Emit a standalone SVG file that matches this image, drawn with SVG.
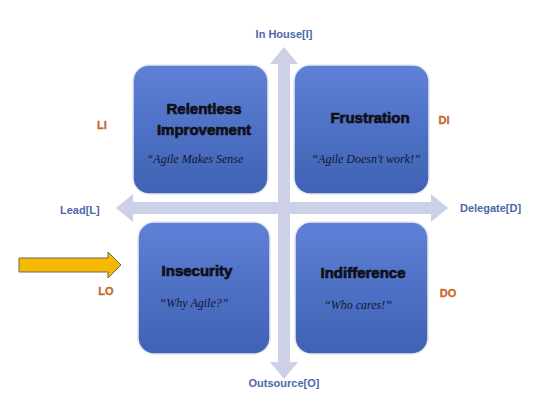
<svg xmlns="http://www.w3.org/2000/svg" width="550" height="405" viewBox="0 0 550 405">
<defs>
<linearGradient id="g" x1="0" y1="0" x2="0" y2="1">
<stop offset="0" stop-color="#5f80d6"/>
<stop offset="1" stop-color="#3f62b4"/>
</linearGradient>
<style>
.box{fill:url(#g);stroke:#e6e9f2;stroke-width:1.5}
.t{font-family:"Liberation Sans",Arial,sans-serif;font-weight:bold;font-size:15px;fill:#101018;stroke:#101018;stroke-width:0.7;text-anchor:middle}
.q{font-family:"Liberation Serif",serif;font-style:italic;font-size:12px;fill:#101830;text-anchor:middle}
.ax{font-family:"Liberation Sans",Arial,sans-serif;font-weight:bold;font-size:11px;fill:#4a68a8}
.c{font-family:"Liberation Sans",Arial,sans-serif;font-weight:bold;font-size:11px;fill:#c8682c;stroke:#c8682c;stroke-width:0.3;text-anchor:middle}
</style>
</defs>
<rect width="550" height="405" fill="#ffffff"/>
<g id="connectors">
<polygon id="vaxis" points="284,47 298,64 290,64 290,362 298,362 284,379 270,362 278,362 278,64 270,64" fill="#cdd1e8"/>
<polygon id="haxis" points="116,208 133,194 133,202 431,202 431,194 448,208 431,222 431,214 133,214 133,222" fill="#cdd1e8"/>
<polygon id="pointer" points="19,258 108,258 108,252 121,265 108,278 108,272 19,272" fill="#f6b800" stroke="#6a6a5a" stroke-width="1"/>
</g>
<g id="node-relentless">
<rect class="box" x="133" y="65" width="135" height="129" rx="16"/>
<text class="t" x="204" y="114">Relentless</text>
<text class="t" x="204" y="135">Improvement</text>
<text class="q" x="195" y="163">“Agile Makes Sense</text>
</g>
<g id="node-frustration">
<rect class="box" x="294" y="65" width="135" height="129" rx="16"/>
<text class="t" x="370" y="123">Frustration</text>
<text class="q" x="366" y="163">“Agile Doesn't work!”</text>
</g>
<g id="node-insecurity">
<rect class="box" x="138" y="222" width="132" height="132" rx="16"/>
<text class="t" x="197" y="276">Insecurity</text>
<text class="q" x="194" y="307">“Why Agile?”</text>
</g>
<g id="node-indifference">
<rect class="box" x="295" y="222" width="133" height="132" rx="16"/>
<text class="t" x="363" y="278">Indifference</text>
<text class="q" x="358" y="309">“Who cares!”</text>
</g>
<g id="labels">
<text class="ax" x="284" y="38" text-anchor="middle">In House[I]</text>
<text class="ax" x="284" y="387" text-anchor="middle">Outsource[O]</text>
<text class="ax" x="60" y="214">Lead[L]</text>
<text class="ax" x="460" y="212">Delegate[D]</text>
<text class="c" x="102" y="129">LI</text>
<text class="c" x="444" y="124">DI</text>
<text class="c" x="106" y="295">LO</text>
<text class="c" x="448" y="297">DO</text>
</g>
</svg>
